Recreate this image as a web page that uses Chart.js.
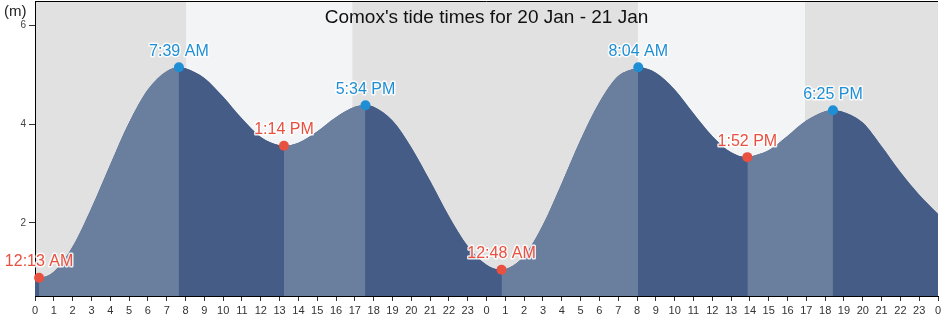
<!DOCTYPE html>
<html><head><meta charset="utf-8">
<script src="https://cdn.jsdelivr.net/npm/chart.js@4"></script>
<style>html,body{margin:0;padding:0;background:#fff}canvas{display:block}</style>
</head><body>
<canvas id="c" width="942" height="318"></canvas>
<script>
// ---- data ----
const curveHours = [0, 0.2167, 1, 2, 3, 4, 5, 6, 7, 7.65, 8, 9, 10, 11, 12, 13, 13.2333, 14, 15, 16, 17, 17.5667,
  18, 19, 20, 21, 22, 23, 24, 24.8, 25, 26, 27, 28, 29, 30, 31, 32, 32.0667, 33, 34, 35, 36, 37, 37.8667,
  38, 39, 40, 41, 42, 42.4167, 43, 44, 45, 46, 47, 48];
const curveHeights = [0.91, 0.89, 1.01, 1.52, 2.30, 3.18, 4.03, 4.70, 5.07, 5.15, 5.13, 4.93, 4.55, 4.11, 3.74, 3.57, 3.56, 3.62, 3.85, 4.14, 4.35, 4.38,
  4.35, 4.07, 3.53, 2.85, 2.14, 1.53, 1.15, 1.05, 1.06, 1.33, 1.96, 2.80, 3.68, 4.44, 4.97, 5.14, 5.15, 5.04, 4.70, 4.22, 3.76, 3.43, 3.33,
  3.34, 3.47, 3.76, 4.07, 4.26, 4.28, 4.24, 4.03, 3.55, 3.03, 2.57, 2.18];
const extremeHours = [0.2167, 7.65, 13.2333, 17.5667, 24.8, 32.0667, 37.8667, 42.4167];
const extremeHeights = [0.89, 5.15, 3.56, 4.38, 1.05, 5.15, 3.33, 4.28];
const extremeLabels = ['12:13 AM', '7:39 AM', '1:14 PM', '5:34 PM', '12:48 AM', '8:04 AM', '1:52 PM', '6:25 PM'];
const extremeKinds = ['low', 'high', 'low', 'high', 'low', 'high', 'low', 'high'];
const xTickHours = [0,1,2,3,4,5,6,7,8,9,10,11,12,13,14,15,16,17,18,19,20,21,22,23,24,25,26,27,28,29,30,31,32,33,34,35,36,37,38,39,40,41,42,43,44,45,46,47,48];
const yTickValues = [2, 4, 6];
const dayStarts = [8.03, 32.05];
const dayEnds = [16.87, 40.93];
const titleText = "Comox's tide times for 20 Jan - 21 Jan";
const unitLabel = '(m)';

// ---- styles ----
const FONT = '"Liberation Sans", Arial, sans-serif';
const RISE = '#6a7e9e';
const FALL = '#455d86';
const HIGH = '#1e8fd5';
const LOW = '#e8503f';
const NIGHT = '#e1e1e1';
const DAY = '#f3f4f6';

const decor = {
  id: 'decor',
  beforeDraw(chart) {
    const {ctx, chartArea: a, scales: {x}} = chart;
    ctx.save();
    ctx.fillStyle = NIGHT;
    ctx.fillRect(a.left, a.top, a.right - a.left, a.bottom - a.top);
    ctx.fillStyle = DAY;
    dayStarts.forEach((s, i) => {
      const x0 = x.getPixelForValue(s), x1 = x.getPixelForValue(dayEnds[i]);
      ctx.fillRect(x0, a.top, x1 - x0, a.bottom - a.top);
    });
    ctx.restore();
  },
  afterDraw(chart) {
    const {ctx, chartArea: a, scales: {x, y}} = chart;
    ctx.save();
    ctx.strokeStyle = '#000';
    ctx.lineWidth = 1;
    ctx.beginPath();
    ctx.moveTo(a.left, a.top - 0.5);
    ctx.lineTo(a.right, a.top - 0.5);
    ctx.stroke();
    ctx.fillStyle = '#111';
    ctx.font = '19px ' + FONT;
    ctx.textAlign = 'center';
    ctx.textBaseline = 'middle';
    ctx.fillText(titleText, (a.left + a.right) / 2, 18);
    ctx.fillStyle = '#222';
    ctx.font = '15px ' + FONT;
    ctx.textAlign = 'left';
    ctx.fillText(unitLabel, 4, 12);
    ctx.font = '16px ' + FONT;
    ctx.textAlign = 'center';
    ctx.lineJoin = 'round';
    extremeHours.forEach((h, i) => {
      const px = x.getPixelForValue(h);
      const py = y.getPixelForValue(extremeHeights[i]) - 16;
      ctx.strokeStyle = 'rgba(255,255,255,0.85)';
      ctx.lineWidth = 3;
      ctx.strokeText(extremeLabels[i], px, py);
      ctx.fillStyle = extremeKinds[i] === 'high' ? HIGH : LOW;
      ctx.fillText(extremeLabels[i], px, py);
    });
    ctx.restore();
  }
};

const curvePoints = curveHours.map((h, i) => ({x: h, y: curveHeights[i]}));

new Chart(document.getElementById('c'), {
  type: 'line',
  data: {
    datasets: [
      {
        data: curvePoints,
        fill: 'start',
        backgroundColor: FALL,
        borderWidth: 0,
        borderColor: 'rgba(0,0,0,0)',
        pointRadius: 0,
        cubicInterpolationMode: 'monotone',
        order: 3
      },
      {
        data: curvePoints,
        fill: 'start',
        backgroundColor: FALL,
        borderWidth: 0,
        borderColor: 'rgba(0,0,0,0)',
        pointRadius: 0,
        cubicInterpolationMode: 'monotone',
        segment: {
          backgroundColor: c => (c.p1.parsed.y > c.p0.parsed.y ? RISE : FALL)
        },
        order: 2
      },
      {
        data: extremeHours.map((h, i) => ({x: h, y: extremeHeights[i]})),
        showLine: false,
        fill: false,
        pointRadius: 5,
        pointBorderWidth: 0,
        pointBackgroundColor: extremeKinds.map(k => (k === 'high' ? HIGH : LOW)),
        clip: false,
        order: 1
      }
    ]
  },
  options: {
    responsive: false,
    animation: false,
    devicePixelRatio: 1,
    layout: {autoPadding: false, padding: {top: 2, right: 4, left: 0, bottom: 0}},
    plugins: {legend: {display: false}, tooltip: {enabled: false}, title: {display: false}},
    scales: {
      x: {
        type: 'linear', min: 0, max: 48,
        afterBuildTicks: s => { s.ticks = xTickHours.map(v => ({value: v})); },
        afterFit: s => { s.height = 22; s.paddingLeft = 0; s.paddingRight = 0; },
        ticks: {autoSkip: false, maxRotation: 0, padding: 3, color: '#333',
          font: {size: 11, family: FONT}, callback: v => String(v % 24)},
        grid: {drawOnChartArea: false, tickLength: 5, color: '#333'},
        border: {color: '#000', width: 1}
      },
      y: {
        min: 0.52, max: 6.47,
        afterBuildTicks: s => { s.ticks = yTickValues.map(v => ({value: v})); },
        afterFit: s => { s.width = 35; s.paddingTop = 0; s.paddingBottom = 0; },
        ticks: {padding: 3, color: '#444', font: {size: 10, family: FONT}},
        grid: {drawOnChartArea: false, tickLength: 6, color: '#333'},
        border: {color: '#000', width: 1}
      }
    }
  },
  plugins: [decor]
});
</script>
</body></html>
